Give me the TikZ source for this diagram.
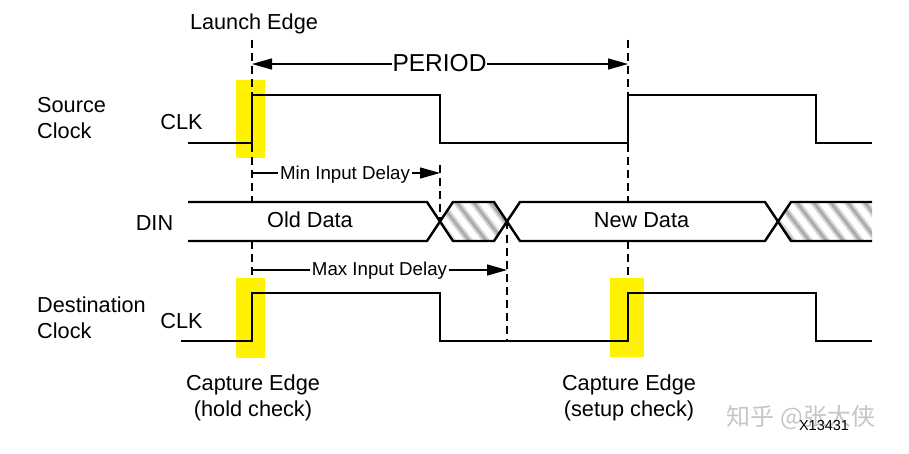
\documentclass[tikz,border=0pt]{standalone}
\usepackage{fontspec}
\setmainfont{Liberation Sans}
\newfontfamily\cjk{Noto Sans CJK SC}
\usetikzlibrary{arrows.meta}
\begin{document}
\begin{tikzpicture}[x=1pt,y=-1pt,
  wave/.style={line width=2.6pt, line join=miter, black},
  guide/.style={line width=1.5pt, dash pattern=on 8pt off 5pt},
  meas/.style={line width=1.4pt},
  tip/.style={-{Triangle[length=20pt,width=11pt]}},
  lbl/.style={font=\fontsize{21.7}{26}\selectfont, inner sep=0pt, anchor=base},
  lbll/.style={lbl, anchor=base west, align=left},
  small/.style={font=\fontsize{18.7}{22}\selectfont, fill=white, inner xsep=2pt, inner ysep=1pt, anchor=base},
  hl/.style={fill=yellow, draw=none},
  stripeA/.style={line width=7pt, gray!30},
  stripeB/.style={line width=3pt, gray!65}]
\useasboundingbox[fill=white] (0,0) rectangle (909,454);

% highlight boxes
\fill[hl] (236,80) rectangle (265,158);
\fill[hl] (236,278) rectangle (265,358);
\fill[hl] (610,278) rectangle (644,357);

% guide lines
\coordinate (L1) at (252,40);
\coordinate (L2) at (252,202);
\coordinate (L3) at (252,241);
\coordinate (L4) at (252,278);
\coordinate (S1) at (628,40);
\coordinate (S2) at (628,202);
\coordinate (S3) at (628,241);
\coordinate (S4) at (628,278);
\coordinate (M1) at (440,165);
\coordinate (M2) at (440,221.5);
\coordinate (X1) at (507,221.5);
\coordinate (X2) at (507,341);
\draw[guide] (L1) -- (L2);
\draw[guide] (L3) -- (L4);
\draw[guide] (S1) -- (S2);
\draw[guide] (S3) -- (S4);
\draw[guide] (M1) -- (M2);
\draw[guide] (X1) -- (X2);

% source clock
\draw[wave] (188,143) -- (252,143) -- (252,95) -- (440,95) -- (440,143)
  -- (628,143) -- (628,95) -- (816,95) -- (816,143) -- (872,143);
% destination clock
\draw[wave] (181,341) -- (252,341) -- (252,293) -- (440,293) -- (440,341)
  -- (628,341) -- (628,293) -- (816,293) -- (816,341) -- (872,341);

% hatched regions
\begin{scope}
  \clip (440,221.5) -- (453,202) -- (494,202) -- (507,221.5) -- (494,241) -- (453,241) -- cycle;
  \foreach \x in {400,417,...,520} {
    \draw[stripeA] (\x,195) -- ++(40,52);
    \draw[stripeB] (\x,195) -- ++(40,52);
  }
\end{scope}
\begin{scope}
  \clip (778,221.5) -- (791,202) -- (872,202) -- (872,241) -- (791,241) -- cycle;
  \foreach \x in {740,757,...,880} {
    \draw[stripeA] (\x,195) -- ++(40,52);
    \draw[stripeB] (\x,195) -- ++(40,52);
  }
\end{scope}

% DIN bus
\draw[wave, line width=2.4pt] (188,202) -- (427,202) -- (453,241) -- (494,241) -- (520,202)
  -- (765,202) -- (791,241) -- (872,241);
\draw[wave, line width=2.4pt] (188,241) -- (427,241) -- (453,202) -- (494,202) -- (520,241)
  -- (765,241) -- (791,202) -- (872,202);

% measurement arrows
\coordinate (P1) at (252,64);
\coordinate (P2) at (628,64);
\draw[meas, {Triangle[length=20pt,width=11pt]}-{Triangle[length=20pt,width=11pt]}] (P1) -- (P2);
\node[lbl, font=\fontsize{24.5}{28}\selectfont, fill=white, inner xsep=1pt, inner ysep=1pt] (period) at (439.5,72) {PERIOD};

\coordinate (m1) at (252,173);
\coordinate (m2) at (440,173);
\draw[meas, tip] (m1) -- (m2);
\node[small] (minlbl) at (345,180) {Min Input Delay};

\coordinate (x1) at (252,270);
\coordinate (x2) at (507,270);
\draw[meas, tip] (x1) -- (x2);
\node[small] (maxlbl) at (379.5,275) {Max Input Delay};

% labels
\node[lbl] (launch) at (254,30) {Launch Edge};
\node[lbll] (src) at (37,139) {Source\\Clock};
\node[lbl] (clk1) at (181.5,130) {CLK};
\node[lbl] (din) at (154.5,230) {DIN};
\node[lbl] (old) at (310,228) {Old Data};
\node[lbl] (new) at (641.5,228) {New Data};
\node[lbll] (dst) at (37,338) {Destination\\Clock};
\node[lbl] (clk2) at (181.5,328) {CLK};
\node[lbl, align=center] (cap1) at (253,416) {Capture Edge\\(hold check)};
\node[lbl, align=center] (cap2) at (629,416) {Capture Edge\\(setup check)};

% figure id and watermark
\node[font=\cjk\fontsize{24}{28}\selectfont, text=gray!45, inner sep=0pt, anchor=base] (wm) at (801,425) {知乎 @张大侠};
\node[font=\fontsize{14.5}{16}\selectfont, inner sep=0pt, anchor=base] (fig) at (824,430) {X13431};
\end{tikzpicture}
\end{document}
